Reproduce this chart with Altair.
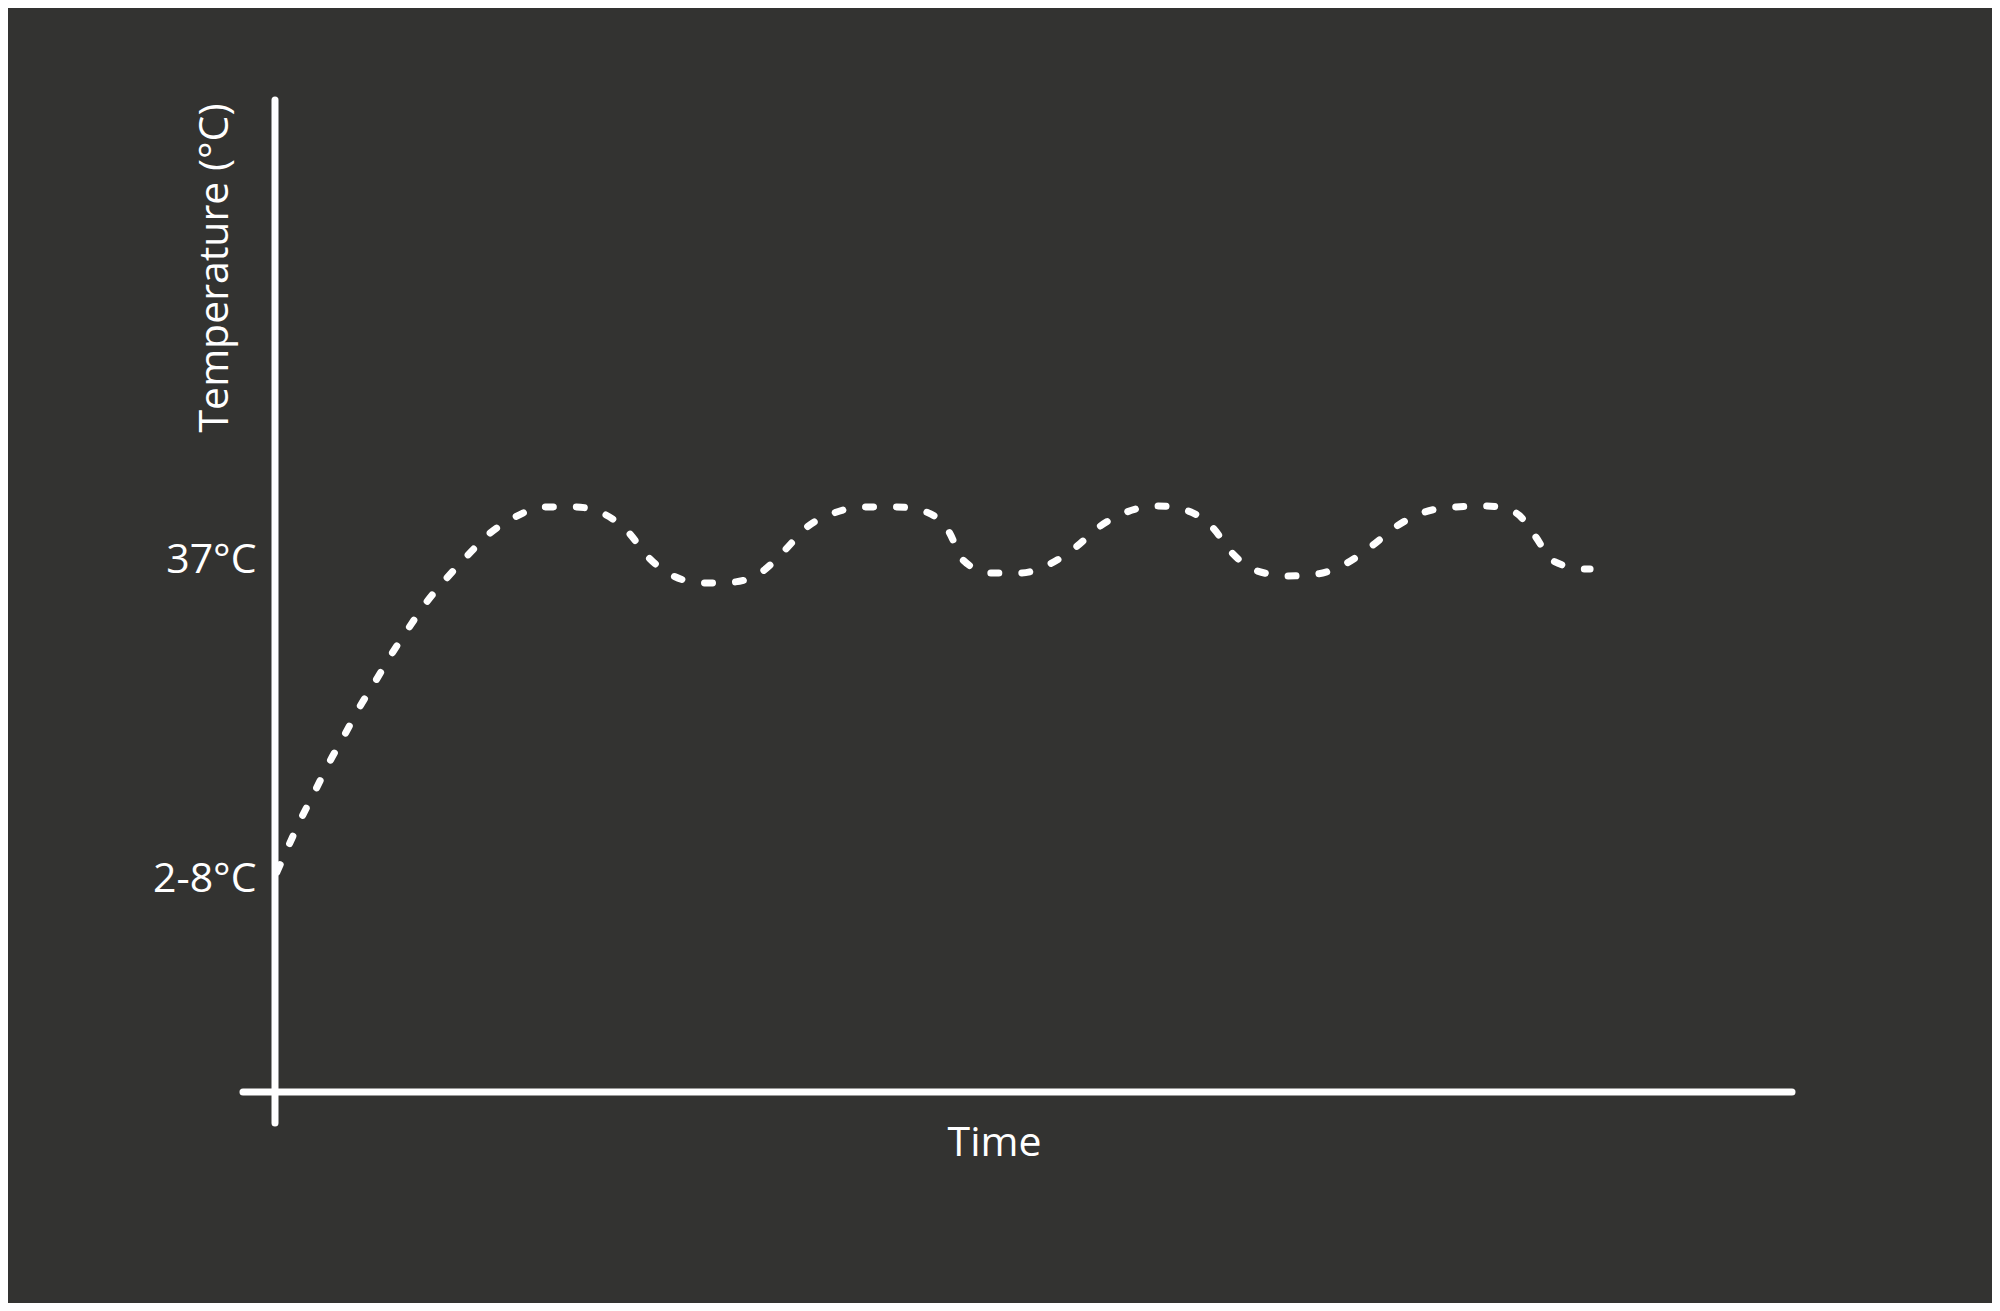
import altair as alt
import pandas as pd

# Curve (time in arbitrary units, temperature-like units)
time_vals = [0.13, 0.86, 1.71, 2.64, 3.56, 4.55, 5.54, 6.59, 7.65, 8.77, 9.95, 11.27,
             12.66, 14.11, 15.82, 17.73, 19.78, 21.69, 23.27, 24.59, 26.24, 28.21,
             30.26, 32.17, 33.62, 35.07, 36.85, 38.83, 40.94, 42.91, 44.43, 45.35,
             47.13, 49.18, 51.09, 52.80, 54.32, 56.16, 58.21, 60.18, 61.83, 63.09,
             64.73, 66.78, 68.75, 70.67, 72.38, 73.96, 75.81, 77.85, 79.89, 81.81,
             83.06, 84.25, 86.29, 86.69]
temp_vals = [5.80, 8.31, 11.12, 13.93, 16.74, 19.45, 22.25, 24.86, 27.57, 30.18, 32.79, 35.19,
             37.50, 39.71, 41.41, 42.42, 42.42, 41.71, 39.91, 37.40, 35.50, 34.79,
             34.89, 36.00, 38.10, 40.41, 41.81, 42.42, 42.42, 41.92, 39.91, 37.10,
             35.80, 35.80, 36.70, 38.40, 40.41, 41.92, 42.52, 42.02, 40.31, 37.80,
             36.00, 35.50, 35.70, 36.80, 38.60, 40.51, 41.92, 42.42, 42.52, 41.81,
             39.51, 37.00, 36.20, 36.20]

tick_values = [5, 37]
tick_labels = ["2-8°C", "37°C"]

x_domain = [0, 100]
y_domain = [-16.27, 83.24]

# axis line extents (data units)
v_axis = {"t": [0], "y0": [-19.38], "y1": [83.24]}
h_axis = {"t0": [-2.11], "t1": [100], "y": [-16.27]}

curve = pd.DataFrame({"t": time_vals, "temp": temp_vals})

FONT = "Open Sans"
WHITE = "#ffffff"
BG = "#333331"

xs = alt.Scale(domain=x_domain, nice=False, zero=False)
ys = alt.Scale(domain=y_domain, nice=False, zero=False)

label_expr = " : ".join(
    f"datum.value == {v} ? '{l}'" for v, l in zip(tick_values, tick_labels)
) + " : ''"

x_axis = alt.Axis(
    title="Time", labels=False, ticks=False, domain=False, grid=False,
    titleFont=FONT, titleFontSize=41, titleFontWeight="normal", titleColor=WHITE,
    titleX=719, titleY=63, titleAlign="center", titleBaseline="alphabetic")
y_axis = alt.Axis(
    title="Temperature (°C)", values=tick_values, labelExpr=label_expr,
    ticks=False, domain=False, grid=False, labelPadding=19,
    labelFont=FONT, labelFontSize=41, labelColor=WHITE, labelBaseline="middle",
    titleFont=FONT, titleFontSize=41, titleFontWeight="normal", titleColor=WHITE,
    titleAngle=-90, titleX=-48, titleY=3, titleAlign="right",
    titleBaseline="alphabetic")

line = alt.Chart(curve).mark_line(
    color=WHITE, strokeWidth=7, strokeDash=[8, 23], strokeCap="round",
    interpolate="monotone"
).encode(
    x=alt.X("t:Q", scale=xs, axis=x_axis),
    y=alt.Y("temp:Q", scale=ys, axis=y_axis),
)

vrule = alt.Chart(pd.DataFrame(v_axis)).mark_rule(
    color=WHITE, strokeWidth=7, strokeCap="round"
).encode(
    x=alt.X("t:Q", scale=xs, axis=x_axis),
    y=alt.Y("y0:Q", scale=ys, axis=y_axis),
    y2="y1:Q",
)

hrule = alt.Chart(pd.DataFrame(h_axis)).mark_rule(
    color=WHITE, strokeWidth=7, strokeCap="round"
).encode(
    x=alt.X("t0:Q", scale=xs, axis=x_axis),
    x2="t1:Q",
    y=alt.Y("y:Q", scale=ys, axis=y_axis),
)

chart = alt.layer(vrule, hrule, line).properties(
    width=1517, height=992,
    autosize=alt.AutoSizeParams(type="none"),
    padding={"left": 267, "top": 92, "right": 200, "bottom": 211},
    background=BG,
).configure_view(stroke=None)

chart.save("out.html", embed_options={"renderer": "svg", "actions": False})
